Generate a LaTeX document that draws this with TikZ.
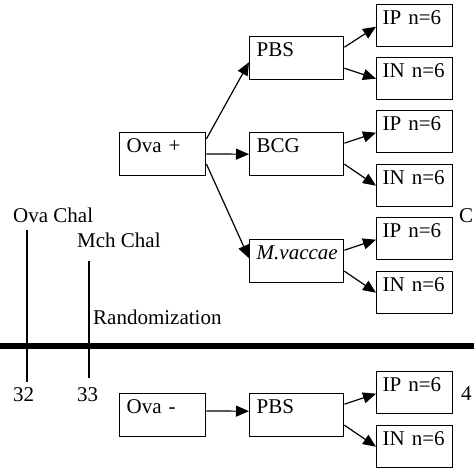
\documentclass[tikz,border=0pt]{standalone}
\usepackage{fontspec}
\setmainfont{Liberation Serif}
\usetikzlibrary{arrows.meta}
\begin{document}
\begin{tikzpicture}[x=1pt,y=-1pt,
  every node/.style={font=\fontsize{21}{25}\selectfont},
  box/.style={draw,line width=1.4pt,anchor=north west,inner xsep=7pt,inner ysep=0pt,
    text height=20pt,align=left},
  gbox/.style={box,inner xsep=6pt,text width=64pt,text depth=22pt},
  mbox/.style={box,text width=80pt,text depth=23pt},
  obox/.style={box,text width=72pt,text depth=22.5pt},
  lbl/.style={anchor=base west,inner sep=0pt},
  arr/.style={line width=1.2pt,-{Triangle[length=13pt,width=11pt]}}]
\useasboundingbox (0,0) rectangle (474,474);
% right column
\node[gbox] (ip1) at (376,4) {\mbox{IP n=6}};
\node[gbox] (in1) at (376,57) {\mbox{IN n=6}};
\node[gbox] (ip2) at (376,110) {\mbox{IP n=6}};
\node[gbox] (in2) at (376,164) {\mbox{IN n=6}};
\node[gbox] (ip3) at (376,217) {\mbox{IP n=6}};
\node[gbox] (in3) at (376,271) {\mbox{IN n=6}};
\node[gbox] (ip4) at (376,371) {\mbox{IP n=6}};
\node[gbox] (in4) at (376,425) {\mbox{IN n=6}};
% middle column
\node[mbox] (pbs1) at (249,36) {PBS};
\node[mbox] (bcg) at (249,132) {BCG};
\node[mbox] (mvac) at (249,239) {\itshape M.vaccae};
\node[mbox] (pbs2) at (249,393) {PBS};
% left column
\node[obox] (ovap) at (119,132) {Ova +};
\node[obox] (ovam) at (119,393) {Ova -};
% arrows
\draw[arr] ([yshift=15pt]ovap.east) -- ([yshift=-4pt]pbs1.west);
\draw[arr] (ovap.east) -- (bcg.west);
\draw[arr] ([yshift=-10pt]ovap.east) -- ([yshift=3pt]mvac.west);
\draw[arr] ([yshift=4pt]ovam.east) -- ([yshift=4pt]pbs2.west);
\foreach \s/\a/\b in {pbs1/ip1/in1,bcg/ip2/in2,mvac/ip3/in3,pbs2/ip4/in4}{
  \draw[arr] ([yshift=11pt]\s.east) -- ([yshift=-1pt]\a.west);
  \draw[arr] ([yshift=-10pt]\s.east) -- (\b.west);
}
% timeline
\draw[line width=6pt] (0,346) -- (474,346);
\draw[line width=1.5pt] (27,230) -- (27,382);
\draw[line width=1.5pt] (89,261) -- (89,378);
\node[lbl] (ovachal) at (13,222) {Ova Chal};
\node[lbl] (mchchal) at (77,247) {Mch Chal};
\node[lbl] (rand) at (93,324) {Randomization};
\node[lbl] (d32) at (13,401) {32};
\node[lbl] (d33) at (77,401) {33};
\node[lbl] (cc) at (459,222) {C};
\node[lbl] (d4) at (461,400) {4};
\end{tikzpicture}
\end{document}
